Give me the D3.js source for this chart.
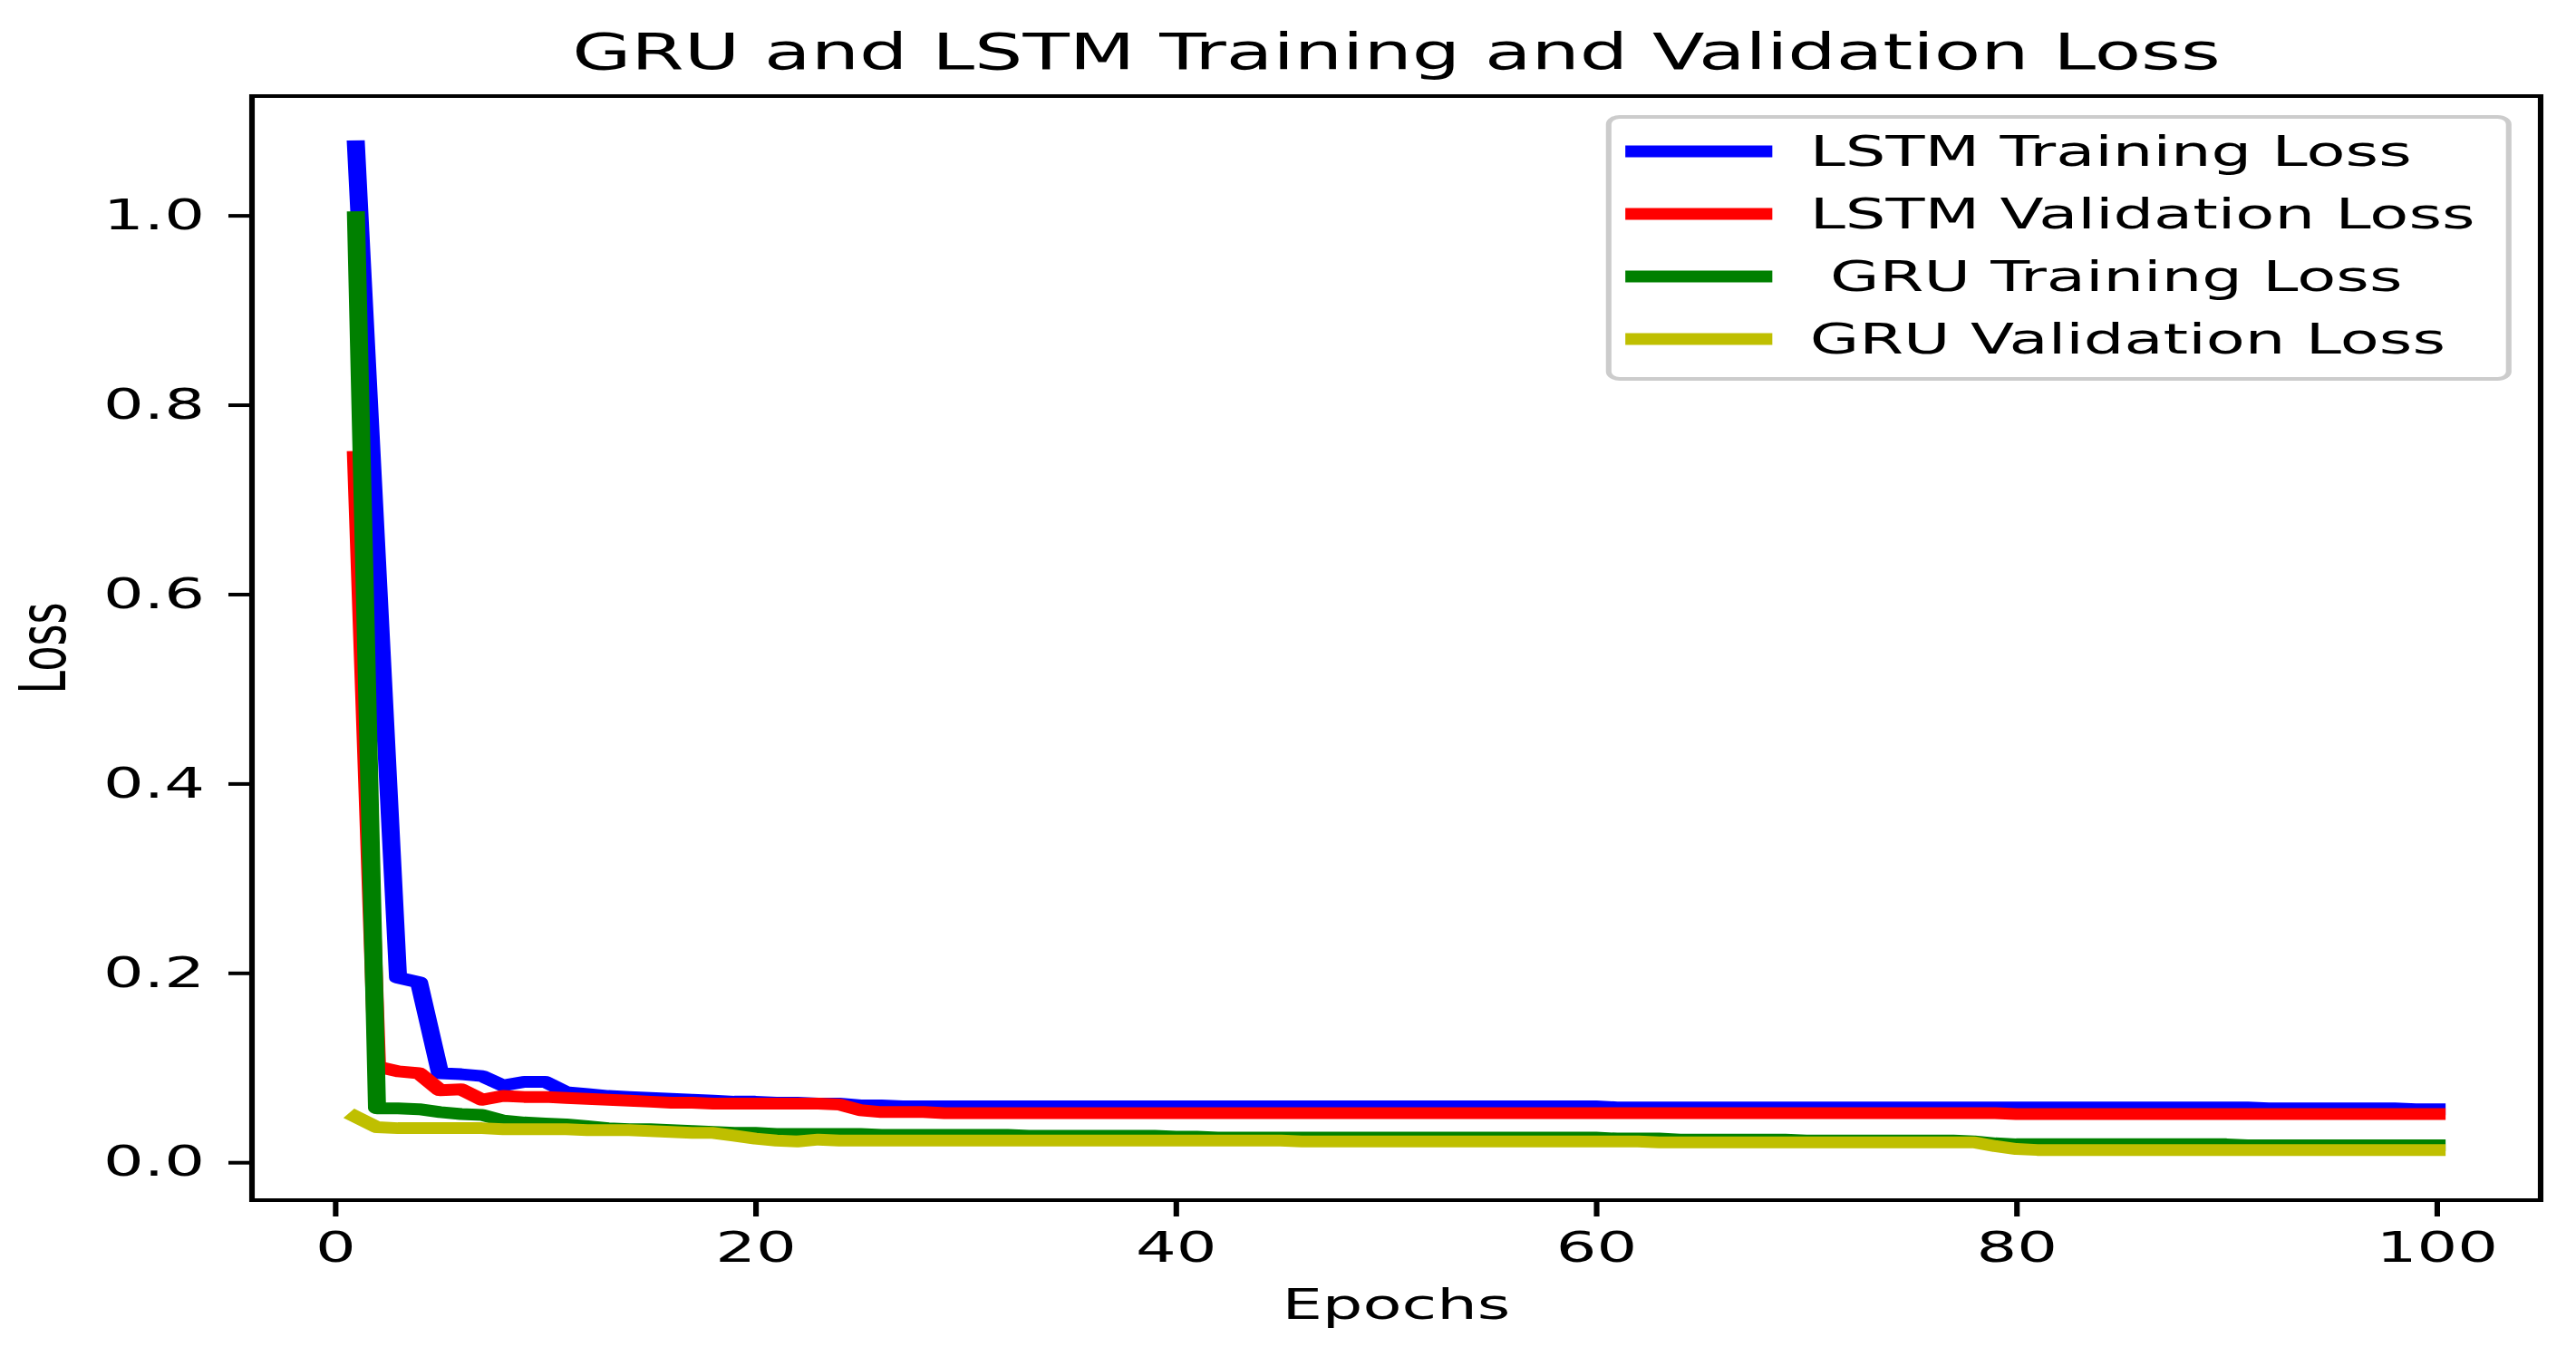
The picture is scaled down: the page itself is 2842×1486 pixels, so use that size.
<!DOCTYPE html>
<html>
<head>
<meta charset="utf-8">
<script src="https://cdn.jsdelivr.net/npm/d3@7"></script>
<style>
  html, body { margin: 0; padding: 0; background: #fff; }
  text { font-family: "DejaVu Sans", sans-serif; fill: #000; }
</style>
</head>
<body>
<script>
// loss per epoch (epochs 1..100)
var lstmTrain = [
  1.073, 0.635, 0.195, 0.190, 0.094, 0.093, 0.091, 0.081, 0.085, 0.085,
  0.074, 0.072, 0.070, 0.069, 0.068, 0.067, 0.066, 0.065, 0.064, 0.064,
  0.063, 0.063, 0.062, 0.062, 0.060, 0.060, 0.059, 0.059, 0.059, 0.059,
  0.059, 0.059, 0.059, 0.059, 0.059, 0.059, 0.059, 0.059, 0.059, 0.059,
  0.059, 0.059, 0.059, 0.059, 0.059, 0.059, 0.059, 0.059, 0.059, 0.059,
  0.059, 0.059, 0.059, 0.059, 0.059, 0.059, 0.059, 0.059, 0.059, 0.059,
  0.058, 0.058, 0.058, 0.058, 0.058, 0.058, 0.058, 0.058, 0.058, 0.058,
  0.058, 0.058, 0.058, 0.058, 0.058, 0.058, 0.058, 0.058, 0.058, 0.058,
  0.058, 0.058, 0.058, 0.058, 0.058, 0.058, 0.058, 0.058, 0.058, 0.058,
  0.058, 0.057, 0.057, 0.057, 0.057, 0.057, 0.057, 0.057, 0.056, 0.056
];
var lstmVal = [
  0.745, 0.101, 0.096, 0.094, 0.076, 0.077, 0.066, 0.070, 0.069, 0.069,
  0.068, 0.067, 0.066, 0.065, 0.064, 0.063, 0.063, 0.062, 0.062, 0.062,
  0.062, 0.062, 0.062, 0.061, 0.055, 0.053, 0.053, 0.053, 0.052, 0.052,
  0.052, 0.052, 0.052, 0.052, 0.052, 0.052, 0.052, 0.052, 0.052, 0.052,
  0.052, 0.052, 0.052, 0.052, 0.052, 0.052, 0.052, 0.052, 0.052, 0.052,
  0.052, 0.052, 0.052, 0.052, 0.052, 0.052, 0.052, 0.052, 0.052, 0.052,
  0.052, 0.052, 0.052, 0.052, 0.052, 0.052, 0.052, 0.052, 0.052, 0.052,
  0.052, 0.052, 0.052, 0.052, 0.052, 0.052, 0.052, 0.052, 0.052, 0.051,
  0.051, 0.051, 0.051, 0.051, 0.051, 0.051, 0.051, 0.051, 0.051, 0.051,
  0.051, 0.051, 0.051, 0.051, 0.051, 0.051, 0.051, 0.051, 0.051, 0.051
];
var gruTrain = [
  0.998, 0.057, 0.057, 0.056, 0.053, 0.051, 0.050, 0.044, 0.042, 0.041,
  0.040, 0.038, 0.036, 0.035, 0.035, 0.034, 0.033, 0.032, 0.031, 0.031,
  0.030, 0.030, 0.030, 0.030, 0.030, 0.029, 0.029, 0.029, 0.029, 0.029,
  0.029, 0.029, 0.028, 0.028, 0.028, 0.028, 0.028, 0.028, 0.028, 0.027,
  0.027, 0.026, 0.026, 0.026, 0.026, 0.026, 0.026, 0.026, 0.026, 0.026,
  0.026, 0.026, 0.026, 0.026, 0.026, 0.026, 0.026, 0.026, 0.026, 0.026,
  0.025, 0.025, 0.025, 0.024, 0.024, 0.024, 0.024, 0.024, 0.024, 0.023,
  0.023, 0.023, 0.023, 0.023, 0.023, 0.023, 0.023, 0.022, 0.020, 0.019,
  0.019, 0.019, 0.019, 0.019, 0.019, 0.019, 0.019, 0.019, 0.019, 0.019,
  0.018, 0.018, 0.018, 0.018, 0.018, 0.018, 0.018, 0.018, 0.018, 0.018
];
var gruVal = [
  0.048, 0.037, 0.036, 0.036, 0.036, 0.036, 0.036, 0.035, 0.035, 0.035,
  0.035, 0.034, 0.034, 0.034, 0.033, 0.032, 0.031, 0.031, 0.028, 0.025,
  0.023, 0.022, 0.024, 0.023, 0.023, 0.023, 0.023, 0.023, 0.023, 0.023,
  0.023, 0.023, 0.023, 0.023, 0.023, 0.023, 0.023, 0.023, 0.023, 0.023,
  0.023, 0.023, 0.023, 0.023, 0.023, 0.022, 0.022, 0.022, 0.022, 0.022,
  0.022, 0.022, 0.022, 0.022, 0.022, 0.022, 0.022, 0.022, 0.022, 0.022,
  0.022, 0.022, 0.021, 0.021, 0.021, 0.021, 0.021, 0.021, 0.021, 0.021,
  0.021, 0.021, 0.021, 0.021, 0.021, 0.021, 0.021, 0.021, 0.017, 0.014,
  0.013, 0.013, 0.013, 0.013, 0.013, 0.013, 0.013, 0.013, 0.013, 0.013,
  0.013, 0.013, 0.013, 0.013, 0.013, 0.013, 0.013, 0.013, 0.013, 0.013
];

var seriesNames = ["LSTM Training Loss", "LSTM Validation Loss", " GRU Training Loss", "GRU Validation Loss"];
var seriesColors = ["#0000ff", "#ff0000", "#008000", "#bfbf00"];
var xTicks = [0, 20, 40, 60, 80, 100];
var yTicks = [0.0, 0.2, 0.4, 0.6, 0.8, 1.0];

var titleText = "GRU and LSTM Training and Validation Loss",
    xLabel = "Epochs",
    yLabel = "Loss";

// NB: "top" is taken by window.top, so the plot box gets its own names
var W = 2842, H = 1486,
    stretch = 1.53,             // the picture is stretched sideways
    pLeft = 181.7, pRight = 1832, pTop = 106, pBottom = 1324;

var series = [lstmTrain, lstmVal, gruTrain, gruVal];

function margin5(lo, hi) { var p = (hi - lo) * 0.05; return [lo - p, hi + p]; }

var allVals = d3.merge(series);
var x = d3.scaleLinear().domain(margin5(1, lstmTrain.length)).range([pLeft, pRight]);
var y = d3.scaleLinear().domain(margin5(d3.min(allVals), d3.max(allVals))).range([pBottom, pTop]);

var svg = d3.select("body").append("svg")
  .attr("width", W)
  .attr("height", H);

var g = svg.append("g").attr("transform", "scale(" + stretch + ",1)");

// lines
var line = d3.line()
  .x(function(d, i) { return x(i + 1); })
  .y(function(d) { return y(d); });

g.append("g").selectAll("path")
  .data(series)
  .enter().append("path")
    .attr("d", line)
    .attr("fill", "none")
    .attr("stroke", function(d, i) { return seriesColors[i]; })
    .attr("stroke-width", 13)
    .attr("stroke-linecap", "square")
    .attr("stroke-linejoin", "round");

// axes
var xAxis = g.append("g")
  .attr("transform", "translate(0," + pBottom + ")")
  .call(d3.axisBottom(x).tickValues(xTicks).tickSize(18).tickPadding(17));
var yAxis = g.append("g")
  .attr("transform", "translate(" + pLeft + ",0)")
  .call(d3.axisLeft(y).tickValues(yTicks).tickFormat(d3.format(".1f")).tickSize(17).tickPadding(17));

[xAxis, yAxis].forEach(function(a) {
  a.select(".domain").remove();
  a.selectAll("line").attr("stroke", "#000").attr("stroke-width", 4);
  a.selectAll("text").attr("font-size", 46).attr("font-family", "DejaVu Sans").attr("fill", "#000");
});

// frame
g.append("rect")
  .attr("x", pLeft).attr("y", pTop)
  .attr("width", pRight - pLeft).attr("height", pBottom - pTop)
  .attr("fill", "none")
  .attr("stroke", "#000")
  .attr("stroke-width", 4);

// title & labels
g.append("text")
  .attr("x", (pLeft + pRight) / 2).attr("y", 76)
  .attr("text-anchor", "middle")
  .attr("font-size", 55)
  .text(titleText);

g.append("text")
  .attr("x", (pLeft + pRight) / 2).attr("y", 1455)
  .attr("text-anchor", "middle")
  .attr("font-size", 46)
  .text(xLabel);

g.append("text")
  .attr("transform", "translate(47," + (pTop + pBottom) / 2 + ")rotate(-90)")
  .attr("text-anchor", "middle")
  .attr("font-size", 46)
  .text(yLabel);

// legend
var legX = 1160, legY = 129, legW = 649, legH = 289, rowH = 69;
var legend = g.append("g");
legend.append("rect")
  .attr("x", legX).attr("y", legY)
  .attr("width", legW).attr("height", legH)
  .attr("rx", 8).attr("ry", 8)
  .attr("fill", "#fff").attr("fill-opacity", 0.8)
  .attr("stroke", "#cccccc").attr("stroke-width", 4);

var rows = legend.selectAll("g.row")
  .data(seriesNames)
  .enter().append("g")
    .attr("class", "row")
    .attr("transform", function(d, i) { return "translate(" + legX + "," + (legY + 38 + i * rowH) + ")"; });

rows.append("line")
  .attr("x1", 12).attr("x2", 118)
  .attr("stroke", function(d, i) { return seriesColors[i]; })
  .attr("stroke-width", 13);

rows.append("text")
  .attr("x", 145).attr("y", 16)
  .attr("font-size", 46)
  .style("white-space", "pre")
  .text(function(d) { return d; });
</script>
</body>
</html>
